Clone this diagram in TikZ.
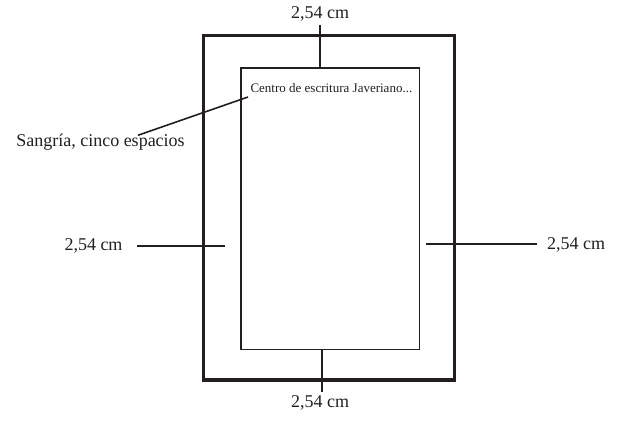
\documentclass[tikz,border=0pt]{standalone}
\usepackage{fontspec}
\setmainfont{Liberation Serif}
\usetikzlibrary{positioning}
\definecolor{tinta}{RGB}{35,31,32}
\begin{document}
\begin{tikzpicture}[x=1pt, y=-1pt, tinta,
	hoja/.style={draw, line width=3.5pt, minimum width=251.4pt, minimum height=344.7pt, inner sep=0pt},
	caja/.style={draw, line width=1.6pt, minimum width=178.5pt, minimum height=281.2pt, inner sep=0pt},
	medida/.style={font=\fontsize{18}{21}\selectfont},
	linea/.style={line width=1.6pt}]
	\useasboundingbox (0,0) rectangle (644,425);
	\node [hoja] (pagina) at (329,207.7) {};
	\node [caja] (margen) at (330.25,208.9) {};
	\node [medida] (arriba) at (320,14) {2,54 cm};
	\node [medida] (abajo) at (320,403) {2,54 cm};
	\node [medida] (izq) at (93.5,246) {2,54 cm};
	\node [medida] (der) at (576,245) {2,54 cm};
	\node [medida] (sangria) at (100.5,142) {Sangría, cinco espacios};
	\node [anchor=west, font=\fontsize{13}{15}\selectfont] (centro) at (247,88) {Centro de escritura Javeriano...};
	\coordinate (arribafin) at (320,68.3);
	\coordinate (abajofin) at (322,349.5);
	\coordinate (izqfin) at (225,246);
	\coordinate (derfin) at (426,244);
	\coordinate (sangriafin) at (248,97);
	\draw [linea] (arriba.south) -- (arribafin);
	\draw [linea] (abajofin) -- (abajofin |- abajo.north);
	\draw [linea, shorten <=11pt] (izq.east |- izqfin) -- (izqfin);
	\draw [linea, shorten >=6.5pt] (derfin) -- (der.west |- derfin);
	\draw [linea] ([xshift=37.5pt, yshift=-5pt]sangria.north) -- (sangriafin);
\end{tikzpicture}
\end{document}
